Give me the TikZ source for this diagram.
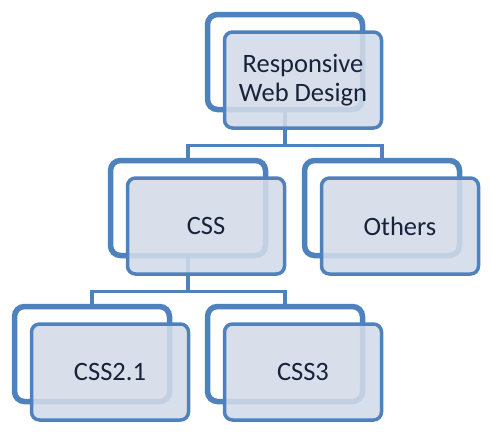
\documentclass[tikz,border=0pt]{standalone}
\usepackage{fontspec}
\setmainfont{Carlito}
\usetikzlibrary{shadows}
\definecolor{edge}{HTML}{4F81BD}
\definecolor{frontfill}{HTML}{D3DBE9}
\definecolor{txt}{HTML}{17223B}
\tikzset{
  backbox/.style={draw=edge, line width=5.5pt, fill=white, rounded corners=10pt,
    minimum width=155pt, minimum height=95pt, inner sep=0pt,
    drop shadow={opacity=0.18, shadow xshift=2pt, shadow yshift=-2pt}},
  frontbox/.style={draw=edge, line width=3.5pt, fill=frontfill, fill opacity=0.88,
    text opacity=1, rounded corners=8pt, minimum width=157pt, minimum height=96pt,
    inner sep=2pt, text=txt, align=center,
    font=\fontsize{26.5}{28.5}\selectfont},
  conn/.style={draw=edge, line width=3.5pt}
}
\begin{document}
\begin{tikzpicture}[x=1pt,y=-1pt]
\useasboundingbox (0,0) rectangle (493,440);
% back boxes
\node[backbox] (rwdB) at (285,62) {};
\node[backbox] (cssB) at (188,208) {};
\node[backbox] (othB) at (382,208) {};
\node[backbox] (c21B) at (92,354) {};
\node[backbox] (c3B) at (285,354) {};
% connectors
\draw[conn] (rwdB.south) -- ++(0,33) coordinate (j1);
\draw[conn] (cssB.north) |- (j1) -| (othB.north);
\draw[conn] (cssB.south) -- ++(0,33) coordinate (j2);
\draw[conn] (c21B.north) |- (j2) -| (c3B.north);
% front boxes
\node[frontbox] (rwd) at (303,80) {Responsive\\Web Design};
\node[frontbox] (css) at (206,226) {CSS};
\node[frontbox] (oth) at (400,226) {Others};
\node[frontbox] (c21) at (110,372) {CSS2.1};
\node[frontbox] (c3) at (303,372) {CSS3};
\end{tikzpicture}
\end{document}
